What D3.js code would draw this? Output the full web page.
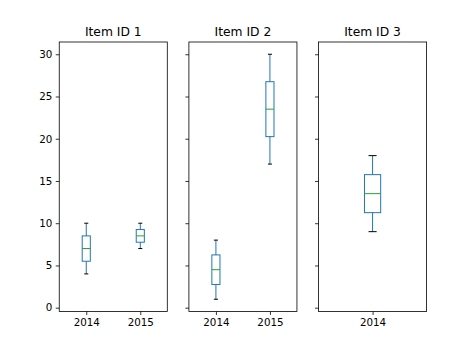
<!DOCTYPE html>
<html><head><meta charset="utf-8">
<script src="https://cdn.jsdelivr.net/npm/d3@7"></script>
<style>body{margin:0;background:#fff}svg{display:block;font-family:"DejaVu Sans",sans-serif}</style>
</head><body><svg id="c" width="474" height="350"></svg>
<script>
const panels = ["Item ID 1", "Item ID 2", "Item ID 3"];
const categories = [["2014", "2015"], ["2014", "2015"], ["2014"]];
// [min, q1, median, q3, max]
const stats = [
  [[4, 5.5, 7, 8.5, 10], [7, 7.75, 8.5, 9.25, 10]],
  [[1, 2.75, 4.5, 6.25, 8], [17, 20.25, 23.5, 26.75, 30]],
  [[9, 11.25, 13.5, 15.75, 18]]
];
const yTicks = [0, 5, 10, 15, 20, 25, 30];

const svg = d3.select("#c");
const mLeft = 59.25, mRight = 426.6, mTop = 42, mBottom = 311.5;
const aw = (mRight - mLeft) / 3.4, gap = aw * 0.2;
const y = d3.scaleLinear().domain([-0.45, 31.45]).range([mBottom, mTop]);
const C0 = "#1f77b4", C2 = "#2ca02c";

panels.forEach((title, i) => {
  const x0 = mLeft + i * (aw + gap);
  const cats = categories[i];
  const x = d3.scaleLinear().domain([0.5, cats.length + 0.5]).range([x0, x0 + aw]);
  const g = svg.append("g");
  const bw = 0.15 * Math.max(cats.length - 1, 1);
  stats[i].forEach((s, j) => {
    const p = j + 1;
    const xl = x(p - bw / 2), xr = x(p + bw / 2), xc = x(p);
    const cl = x(p - bw / 4), cr = x(p + bw / 4);
    g.append("line").attr("x1", xc).attr("x2", xc).attr("y1", y(s[0])).attr("y2", y(s[1])).attr("stroke", C0).attr("stroke-width", 1);
    g.append("line").attr("x1", xc).attr("x2", xc).attr("y1", y(s[3])).attr("y2", y(s[4])).attr("stroke", C0).attr("stroke-width", 1);
    [s[0], s[4]].forEach(v => g.append("line").attr("x1", cl).attr("x2", cr).attr("y1", y(v)).attr("y2", y(v)).attr("stroke", "#000").attr("stroke-width", 1));
    g.append("rect").attr("x", xl).attr("y", y(s[3])).attr("width", xr - xl).attr("height", y(s[1]) - y(s[3]))
      .attr("fill", "none").attr("stroke", C0).attr("stroke-width", 1);
    g.append("line").attr("x1", xl).attr("x2", xr).attr("y1", y(s[2])).attr("y2", y(s[2])).attr("stroke", C2).attr("stroke-width", 1);
  });
  g.append("rect").attr("x", x0).attr("y", mTop).attr("width", aw).attr("height", mBottom - mTop)
    .attr("fill", "none").attr("stroke", "#000").attr("stroke-width", 0.8);
  const xa = d3.axisBottom(x).tickValues(cats.map((c, k) => k + 1)).tickFormat((d) => cats[d - 1]).tickSize(3.5).tickPadding(3.5);
  const gx = g.append("g").attr("transform", `translate(0,${mBottom})`).call(xa);
  gx.select(".domain").remove();
  gx.selectAll("line").attr("stroke-width", 0.8);
  gx.selectAll("text").attr("font-size", 10.3).attr("fill", "#000").attr("font-family", "DejaVu Sans");
  const ya = d3.axisLeft(y).tickValues(yTicks).tickSize(3.5).tickPadding(3.5).tickFormat(i === 0 ? d3.format("d") : () => "");
  const gy = g.append("g").attr("transform", `translate(${x0},0)`).call(ya);
  gy.select(".domain").remove();
  gy.selectAll("line").attr("stroke-width", 0.8);
  gy.selectAll("text").attr("font-size", 10.3).attr("fill", "#000").attr("font-family", "DejaVu Sans");
  g.append("text").attr("x", x0 + aw / 2).attr("y", mTop - 6).attr("text-anchor", "middle")
    .attr("font-size", 12.3).attr("fill", "#000").attr("font-family", "DejaVu Sans").text(title);
});
</script></body></html>
